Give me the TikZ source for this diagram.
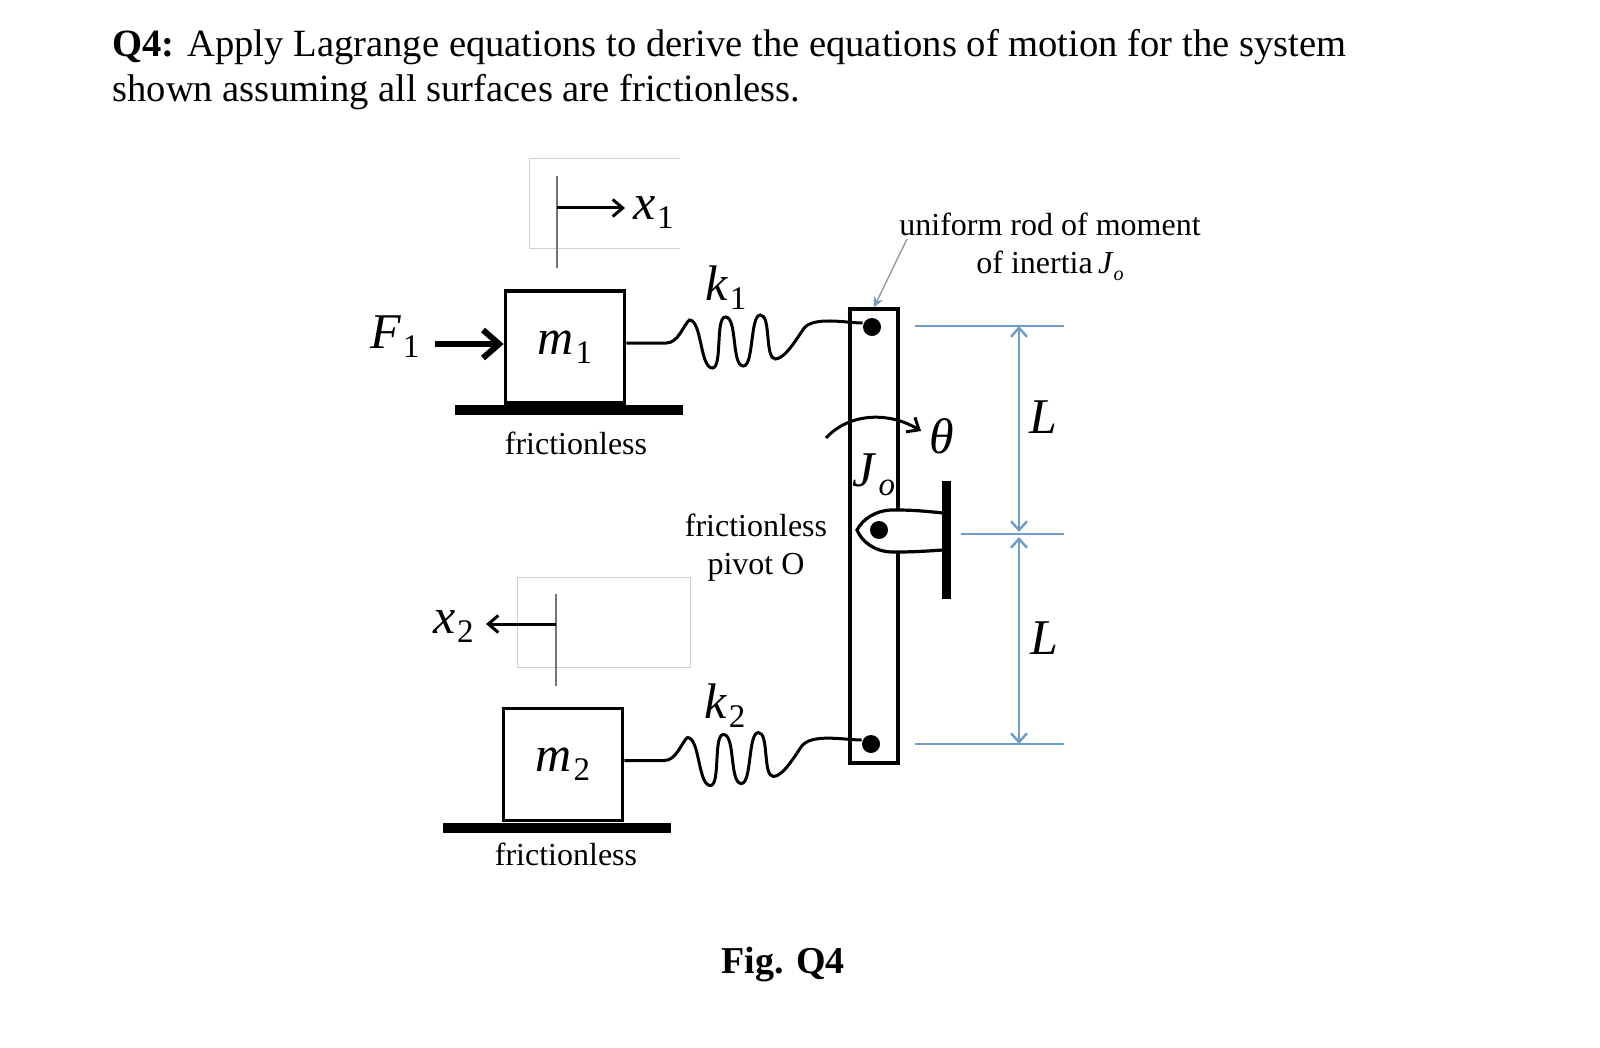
\documentclass[tikz,border=0pt]{standalone}
\usepackage{fontspec}
\setmainfont{Liberation Serif}
\usetikzlibrary{arrows.meta}
\definecolor{dimblue}{HTML}{6E9CCB}
\newcommand{\symb}[2]{{\fontsize{25}{25}\selectfont\textit{#1}\kern.03em\raisebox{-.18em}{\fontsize{16.5}{16.5}\selectfont #2}}}

\begin{document}
\begin{tikzpicture}[x=0.5pt,y=-0.5pt]
  \tikzstyle{blk}=[draw,rectangle,line width=1.9pt,minimum width=59.5pt,minimum height=56pt,inner sep=0pt]
  \tikzstyle{bar}=[fill=black,rectangle,inner sep=0pt]
  \tikzstyle{pin}=[fill=black,circle,inner sep=0pt,minimum size=9pt]
  \tikzstyle{lbl}=[font=\fontsize{16}{19}\selectfont,align=center,inner sep=0pt]
  \tikzstyle{sym}=[font=\fontsize{25}{25}\selectfont,inner sep=0pt]
  \tikzstyle{arr}=[-{Straight Barb[length=5pt,width=8.5pt]},line width=1.5pt]
  \tikzstyle{spr}=[line width=1.5pt]
  \tikzstyle{datum}=[draw=black!55,line width=0.6pt]
  \tikzstyle{ghost}=[draw=black!18,line width=0.5pt]
  \tikzstyle{dim}=[draw=dimblue,line width=1.2pt]
  \tikzstyle{dimarr}=[dim,{Straight Barb[length=4.5pt,width=8pt]}-{Straight Barb[length=4.5pt,width=8pt]}]
  \useasboundingbox (0,0) rectangle (1600,1048);

  % Title
  \node[anchor=north west,align=left,inner sep=0pt,font=\fontsize{19.3}{22.5}\selectfont] (title) at (112,29)
    {\textbf{Q4:} Apply Lagrange equations to derive the equations of motion for the system\\shown assuming all surfaces are frictionless.};

  % Upper mass
  \node[blk] (m1) at (565,347) {\symb{m}{1}};
  \node[bar,minimum width=114pt,minimum height=5pt] (ground1) at (569,410) {};
  \node[lbl] (fric1) at (576,443) {frictionless};
  \node[sym,anchor=base west] (F1) at (370,348) {\symb{F}{1}};
  \coordinate (F1tail) at (435,344);
  \draw[-{Straight Barb[length=8pt,width=14pt]},line width=3pt] (F1tail) -- (F1tail -| m1.west);

  % x1 marker
  \draw[ghost] (680,159) -- (529,159) -- (529,249) -- (680,249);
  \coordinate (x1top) at (557,176);
  \coordinate (x1bot) at (557,268);
  \coordinate (x1root) at (557,208);
  \coordinate (x1tip) at (625,208);
  \node[sym,anchor=base west] (x1) at (633,220) {\symb{x}{1}};
  \draw[datum] (x1top) -- (x1bot);
  \draw[arr] (x1root) -- (x1tip);

  % Rod
  \node[blk,minimum width=24pt,minimum height=227pt] (rod) at (874,536) {};
  \node[pin] (pin1) at (872,327) {};
  \node[pin] (pin2) at (871,744) {};

  % Springs
  \node[sym,anchor=base west] (k1) at (705,300) {\symb{k}{1}};
  \node[sym,anchor=base west] (k2) at (704,718) {\symb{k}{2}};
  \node[blk] (m2) at (563,764.5) {\symb{m}{2}};
  \foreach \m/\p in {m1/pin1,m2/pin2}{
    \draw[spr] ([yshift=2pt]\m.east) -- ++(40,0)
      .. controls +(12,0) and +(-6,5) .. ++(23,-23)
      to[out=0,in=180,looseness=.6] ++(23,48)
      to[out=0,in=180,looseness=.5] ++(13,-51)
      to[out=0,in=180,looseness=.6] ++(18,49)
      to[out=0,in=180,looseness=.5] ++(17,-51)
      to[out=0,in=180,looseness=.6] ++(15,44)
      to[out=0,in=-125,looseness=.6] ++(28,-30)
      to[out=55,in=180,looseness=.7] ([yshift=2pt]\p.west);
  }

  % Lower mass
  \node[bar,minimum width=114pt,minimum height=5pt] (ground2) at (557,828) {};
  \node[lbl] (fric2) at (566,854) {frictionless};

  % x2 marker
  \draw[ghost] (517,577) rectangle (690,667);
  \coordinate (x2top) at (556,594);
  \coordinate (x2bot) at (556,686);
  \coordinate (x2root) at (556,624);
  \coordinate (x2tip) at (486,624);
  \node[sym,anchor=base west] (x2) at (433,633) {\symb{x}{2}};
  \draw[datum] (x2top) -- (x2bot);
  \draw[arr] (x2root) -- (x2tip);

  % Pivot
  \draw[line width=1.6pt,fill=white] (943,513) .. controls (915,510) and (905,510) .. (893,510)
    .. controls (875,510) and (862,520) .. (857,530)
    .. controls (862,542) and (875,552) .. (893,552)
    .. controls (905,552) and (915,552) .. (943,550);
  \node[pin] (pin0) at (879,530) {};
  \node[bar,minimum width=4.5pt,minimum height=59pt] (stop) at (946.5,540) {};
  \node[lbl] (pivotlbl) at (756,548) {frictionless\\pivot O};
  \node[sym] (Jo) at (874,475) {\symb{J}{\textit{o}}};

  % Rotation
  \coordinate (thetafrom) at (826,438);
  \coordinate (thetatip) at (921,431);
  \node[sym] (theta) at (942,436) {\textit{θ}};
  \draw[arr] (thetafrom) .. controls (850,412) and (890,412) .. (thetatip);

  % Rod note
  \node[lbl] (rodnote) at (1050,247) {uniform rod of moment\\of inertia\,\textit{J}\raisebox{-.2em}{\fontsize{10}{10}\selectfont\textit{o}}};
  \coordinate (notefrom) at (907,239);
  \draw[draw=black!40,line width=0.7pt,-{Stealth[color=dimblue,length=5pt,width=5pt]}] (notefrom) -- (rod.north);

  % Dimensions
  \coordinate (tick1a) at (915,326);
  \coordinate (tick1b) at (1064,326);
  \coordinate (tick0a) at (961,534);
  \coordinate (tick0b) at (1064,534);
  \coordinate (tick2a) at (915,744);
  \coordinate (tick2b) at (1064,744);
  \coordinate (dim1a) at (1019,326);
  \coordinate (dim1b) at (1019,532);
  \coordinate (dim2a) at (1019,537);
  \coordinate (dim2b) at (1019,744);
  \draw[dim] (tick1a) -- (tick1b);
  \draw[dim] (tick0a) -- (tick0b);
  \draw[dim] (tick2a) -- (tick2b);
  \draw[dimarr] (dim1a) -- (dim1b);
  \draw[dimarr] (dim2a) -- (dim2b);
  \node[sym] (L1) at (1043,417) {\textit{L}};
  \node[sym] (L2) at (1044,638) {\textit{L}};

  % Caption
  \node[font=\fontsize{19}{22}\selectfont\bfseries,inner sep=0pt] (fig) at (783,964) {Fig. Q4};
\end{tikzpicture}
\end{document}
